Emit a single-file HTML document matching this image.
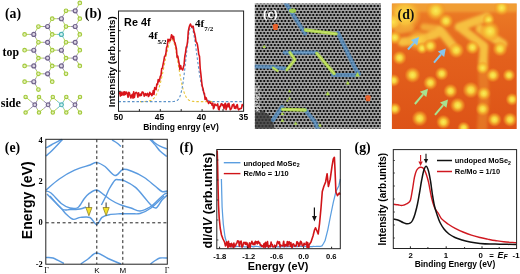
<!DOCTYPE html><html><head><meta charset="utf-8"><title>Figure</title><style>
html,body{margin:0;padding:0;background:#fff;}
svg{display:block;}
.pl{font-family:'Liberation Serif','Times New Roman',serif;font-weight:bold;}
.sb{font-family:'Liberation Sans',Arial,sans-serif;font-weight:bold;}
</style></head><body>
<svg xmlns="http://www.w3.org/2000/svg" width="520" height="274" viewBox="0 0 520 274">
<defs>
<radialGradient id="hole"><stop offset="0" stop-color="#0a0a0a"/><stop offset="0.55" stop-color="#151515"/><stop offset="1" stop-color="#151515" stop-opacity="0"/></radialGradient>
<pattern id="lat" width="3.5" height="6.0" patternUnits="userSpaceOnUse"><rect width="3.5" height="6.0" fill="#898989"/><g fill="#d8d8d8"><circle cx="1.750" cy="1.000" r="0.65"/><circle cx="0.000" cy="2.000" r="0.65"/><circle cx="3.500" cy="2.000" r="0.65"/><circle cx="0.000" cy="4.000" r="0.65"/><circle cx="3.500" cy="4.000" r="0.65"/><circle cx="1.750" cy="5.000" r="0.65"/></g><circle cx="0.000" cy="0.000" r="1.62" fill="url(#hole)"/><circle cx="3.500" cy="0.000" r="1.62" fill="url(#hole)"/><circle cx="1.750" cy="3.000" r="1.62" fill="url(#hole)"/><circle cx="0.000" cy="6.000" r="1.62" fill="url(#hole)"/><circle cx="3.500" cy="6.000" r="1.62" fill="url(#hole)"/></pattern>
<radialGradient id="blob"><stop offset="0" stop-color="#faec58"/><stop offset="0.35" stop-color="#f6d23e"/><stop offset="0.7" stop-color="#f5a82a" stop-opacity="0.6"/><stop offset="1" stop-color="#f08a20" stop-opacity="0"/></radialGradient>
<radialGradient id="blob2"><stop offset="0" stop-color="#f7c52a"/><stop offset="0.5" stop-color="#f3a828"/><stop offset="1" stop-color="#ee8a22" stop-opacity="0"/></radialGradient>
<filter id="bl1" x="-20%" y="-20%" width="140%" height="140%"><feGaussianBlur stdDeviation="2.2"/></filter>
<filter id="bl2" x="-30%" y="-30%" width="160%" height="160%"><feGaussianBlur stdDeviation="1.6"/></filter>
<linearGradient id="topg" x1="0" y1="0" x2="0" y2="1"><stop offset="0" stop-color="#f08a2a"/><stop offset="1" stop-color="#f08a2a" stop-opacity="0"/></linearGradient>
<linearGradient id="dbg" x1="0" y1="0" x2="0" y2="1"><stop offset="0" stop-color="#ec7e26"/><stop offset="0.45" stop-color="#e3601c"/><stop offset="1" stop-color="#dd5317"/></linearGradient>
<radialGradient id="glow"><stop offset="0" stop-color="#fde44c"/><stop offset="0.55" stop-color="#f8c43c" stop-opacity="0.9"/><stop offset="1" stop-color="#f0a030" stop-opacity="0"/></radialGradient>
<filter id="bl05"><feGaussianBlur stdDeviation="0.5"/></filter>
<clipPath id="clipd"><rect x="391.8" y="3.6" width="124.9" height="125.3"/></clipPath>
<clipPath id="clipc"><rect x="254.8" y="3.4" width="126.1" height="125.4"/></clipPath>
</defs>
<text class="pl" x="5" y="18.2" font-size="13.8">(a)</text>
<text class="pl" x="2.6" y="56.2" font-size="11.8">top</text>
<text class="pl" x="0.7" y="106.5" font-size="12.1">side</text>
<line x1="61.4" y1="34.4" x2="56.8" y2="34.4" stroke="#6fc0c0" stroke-width="1.0"/>
<line x1="56.8" y1="34.4" x2="52.2" y2="34.4" stroke="#b2d456" stroke-width="1.0"/>
<line x1="61.4" y1="34.4" x2="63.7" y2="30.5" stroke="#6fc0c0" stroke-width="1.0"/>
<line x1="63.7" y1="30.5" x2="66" y2="26.5" stroke="#b2d456" stroke-width="1.0"/>
<line x1="61.4" y1="34.4" x2="63.7" y2="38.4" stroke="#6fc0c0" stroke-width="1.0"/>
<line x1="63.7" y1="38.4" x2="66" y2="42.3" stroke="#b2d456" stroke-width="1.0"/>
<line x1="33.8" y1="34.4" x2="29.2" y2="34.4" stroke="#968aae" stroke-width="1.0"/>
<line x1="29.2" y1="34.4" x2="24.6" y2="34.4" stroke="#b2d456" stroke-width="1.0"/>
<line x1="33.8" y1="34.4" x2="36.1" y2="30.5" stroke="#968aae" stroke-width="1.0"/>
<line x1="36.1" y1="30.5" x2="38.4" y2="26.5" stroke="#b2d456" stroke-width="1.0"/>
<line x1="33.8" y1="34.4" x2="36.1" y2="38.4" stroke="#968aae" stroke-width="1.0"/>
<line x1="36.1" y1="38.4" x2="38.4" y2="42.3" stroke="#b2d456" stroke-width="1.0"/>
<line x1="33.8" y1="81.7" x2="29.2" y2="81.7" stroke="#968aae" stroke-width="1.0"/>
<line x1="29.2" y1="81.7" x2="24.6" y2="81.7" stroke="#b2d456" stroke-width="1.0"/>
<line x1="33.8" y1="81.7" x2="36.1" y2="77.8" stroke="#968aae" stroke-width="1.0"/>
<line x1="36.1" y1="77.8" x2="38.4" y2="73.8" stroke="#b2d456" stroke-width="1.0"/>
<line x1="33.8" y1="81.7" x2="36.1" y2="85.6" stroke="#968aae" stroke-width="1.0"/>
<line x1="36.1" y1="85.6" x2="38.4" y2="89.6" stroke="#b2d456" stroke-width="1.0"/>
<line x1="47.6" y1="42.3" x2="43" y2="42.3" stroke="#968aae" stroke-width="1.0"/>
<line x1="43" y1="42.3" x2="38.4" y2="42.3" stroke="#b2d456" stroke-width="1.0"/>
<line x1="47.6" y1="42.3" x2="49.9" y2="38.4" stroke="#968aae" stroke-width="1.0"/>
<line x1="49.9" y1="38.4" x2="52.2" y2="34.4" stroke="#b2d456" stroke-width="1.0"/>
<line x1="47.6" y1="42.3" x2="49.9" y2="46.2" stroke="#968aae" stroke-width="1.0"/>
<line x1="49.9" y1="46.2" x2="52.2" y2="50.2" stroke="#b2d456" stroke-width="1.0"/>
<line x1="75.2" y1="10.8" x2="70.6" y2="10.8" stroke="#968aae" stroke-width="1.0"/>
<line x1="70.6" y1="10.8" x2="66" y2="10.8" stroke="#b2d456" stroke-width="1.0"/>
<line x1="75.2" y1="10.8" x2="77.5" y2="6.8" stroke="#968aae" stroke-width="1.0"/>
<line x1="77.5" y1="6.8" x2="79.8" y2="2.9" stroke="#b2d456" stroke-width="1.0"/>
<line x1="75.2" y1="10.8" x2="77.5" y2="14.7" stroke="#968aae" stroke-width="1.0"/>
<line x1="77.5" y1="14.7" x2="79.8" y2="18.7" stroke="#b2d456" stroke-width="1.0"/>
<line x1="75.2" y1="58.1" x2="70.6" y2="58.1" stroke="#968aae" stroke-width="1.0"/>
<line x1="70.6" y1="58.1" x2="66" y2="58.1" stroke="#b2d456" stroke-width="1.0"/>
<line x1="75.2" y1="58.1" x2="77.5" y2="54.1" stroke="#968aae" stroke-width="1.0"/>
<line x1="77.5" y1="54.1" x2="79.8" y2="50.2" stroke="#b2d456" stroke-width="1.0"/>
<line x1="75.2" y1="58.1" x2="77.5" y2="62" stroke="#968aae" stroke-width="1.0"/>
<line x1="77.5" y1="62" x2="79.8" y2="65.9" stroke="#b2d456" stroke-width="1.0"/>
<line x1="33.8" y1="50.2" x2="29.2" y2="50.2" stroke="#968aae" stroke-width="1.0"/>
<line x1="29.2" y1="50.2" x2="24.6" y2="50.2" stroke="#b2d456" stroke-width="1.0"/>
<line x1="33.8" y1="50.2" x2="36.1" y2="46.2" stroke="#968aae" stroke-width="1.0"/>
<line x1="36.1" y1="46.2" x2="38.4" y2="42.3" stroke="#b2d456" stroke-width="1.0"/>
<line x1="33.8" y1="50.2" x2="36.1" y2="54.1" stroke="#968aae" stroke-width="1.0"/>
<line x1="36.1" y1="54.1" x2="38.4" y2="58.1" stroke="#b2d456" stroke-width="1.0"/>
<line x1="47.6" y1="58.1" x2="43" y2="58.1" stroke="#968aae" stroke-width="1.0"/>
<line x1="43" y1="58.1" x2="38.4" y2="58.1" stroke="#b2d456" stroke-width="1.0"/>
<line x1="47.6" y1="58.1" x2="49.9" y2="54.1" stroke="#968aae" stroke-width="1.0"/>
<line x1="49.9" y1="54.1" x2="52.2" y2="50.2" stroke="#b2d456" stroke-width="1.0"/>
<line x1="47.6" y1="58.1" x2="49.9" y2="62" stroke="#968aae" stroke-width="1.0"/>
<line x1="49.9" y1="62" x2="52.2" y2="65.9" stroke="#b2d456" stroke-width="1.0"/>
<line x1="75.2" y1="26.5" x2="70.6" y2="26.5" stroke="#968aae" stroke-width="1.0"/>
<line x1="70.6" y1="26.5" x2="66" y2="26.5" stroke="#b2d456" stroke-width="1.0"/>
<line x1="75.2" y1="26.5" x2="77.5" y2="22.6" stroke="#968aae" stroke-width="1.0"/>
<line x1="77.5" y1="22.6" x2="79.8" y2="18.7" stroke="#b2d456" stroke-width="1.0"/>
<line x1="75.2" y1="26.5" x2="77.5" y2="30.5" stroke="#968aae" stroke-width="1.0"/>
<line x1="77.5" y1="30.5" x2="79.8" y2="34.4" stroke="#b2d456" stroke-width="1.0"/>
<line x1="61.4" y1="50.2" x2="56.8" y2="50.2" stroke="#968aae" stroke-width="1.0"/>
<line x1="56.8" y1="50.2" x2="52.2" y2="50.2" stroke="#b2d456" stroke-width="1.0"/>
<line x1="61.4" y1="50.2" x2="63.7" y2="46.2" stroke="#968aae" stroke-width="1.0"/>
<line x1="63.7" y1="46.2" x2="66" y2="42.3" stroke="#b2d456" stroke-width="1.0"/>
<line x1="61.4" y1="50.2" x2="63.7" y2="54.1" stroke="#968aae" stroke-width="1.0"/>
<line x1="63.7" y1="54.1" x2="66" y2="58.1" stroke="#b2d456" stroke-width="1.0"/>
<line x1="61.4" y1="18.7" x2="56.8" y2="18.7" stroke="#968aae" stroke-width="1.0"/>
<line x1="56.8" y1="18.7" x2="52.2" y2="18.7" stroke="#b2d456" stroke-width="1.0"/>
<line x1="61.4" y1="18.7" x2="63.7" y2="14.7" stroke="#968aae" stroke-width="1.0"/>
<line x1="63.7" y1="14.7" x2="66" y2="10.8" stroke="#b2d456" stroke-width="1.0"/>
<line x1="61.4" y1="18.7" x2="63.7" y2="22.6" stroke="#968aae" stroke-width="1.0"/>
<line x1="63.7" y1="22.6" x2="66" y2="26.5" stroke="#b2d456" stroke-width="1.0"/>
<line x1="33.8" y1="65.9" x2="29.2" y2="65.9" stroke="#968aae" stroke-width="1.0"/>
<line x1="29.2" y1="65.9" x2="24.6" y2="65.9" stroke="#b2d456" stroke-width="1.0"/>
<line x1="33.8" y1="65.9" x2="36.1" y2="62" stroke="#968aae" stroke-width="1.0"/>
<line x1="36.1" y1="62" x2="38.4" y2="58.1" stroke="#b2d456" stroke-width="1.0"/>
<line x1="33.8" y1="65.9" x2="36.1" y2="69.9" stroke="#968aae" stroke-width="1.0"/>
<line x1="36.1" y1="69.9" x2="38.4" y2="73.8" stroke="#b2d456" stroke-width="1.0"/>
<line x1="47.6" y1="26.5" x2="43" y2="26.5" stroke="#968aae" stroke-width="1.0"/>
<line x1="43" y1="26.5" x2="38.4" y2="26.5" stroke="#b2d456" stroke-width="1.0"/>
<line x1="47.6" y1="26.5" x2="49.9" y2="22.6" stroke="#968aae" stroke-width="1.0"/>
<line x1="49.9" y1="22.6" x2="52.2" y2="18.7" stroke="#b2d456" stroke-width="1.0"/>
<line x1="47.6" y1="26.5" x2="49.9" y2="30.5" stroke="#968aae" stroke-width="1.0"/>
<line x1="49.9" y1="30.5" x2="52.2" y2="34.4" stroke="#b2d456" stroke-width="1.0"/>
<line x1="47.6" y1="73.8" x2="43" y2="73.8" stroke="#968aae" stroke-width="1.0"/>
<line x1="43" y1="73.8" x2="38.4" y2="73.8" stroke="#b2d456" stroke-width="1.0"/>
<line x1="47.6" y1="73.8" x2="49.9" y2="69.9" stroke="#968aae" stroke-width="1.0"/>
<line x1="49.9" y1="69.9" x2="52.2" y2="65.9" stroke="#b2d456" stroke-width="1.0"/>
<line x1="47.6" y1="73.8" x2="49.9" y2="77.8" stroke="#968aae" stroke-width="1.0"/>
<line x1="49.9" y1="77.8" x2="52.2" y2="81.7" stroke="#b2d456" stroke-width="1.0"/>
<line x1="75.2" y1="42.3" x2="70.6" y2="42.3" stroke="#968aae" stroke-width="1.0"/>
<line x1="70.6" y1="42.3" x2="66" y2="42.3" stroke="#b2d456" stroke-width="1.0"/>
<line x1="75.2" y1="42.3" x2="77.5" y2="38.4" stroke="#968aae" stroke-width="1.0"/>
<line x1="77.5" y1="38.4" x2="79.8" y2="34.4" stroke="#b2d456" stroke-width="1.0"/>
<line x1="75.2" y1="42.3" x2="77.5" y2="46.2" stroke="#968aae" stroke-width="1.0"/>
<line x1="77.5" y1="46.2" x2="79.8" y2="50.2" stroke="#b2d456" stroke-width="1.0"/>
<line x1="61.4" y1="65.9" x2="56.8" y2="65.9" stroke="#968aae" stroke-width="1.0"/>
<line x1="56.8" y1="65.9" x2="52.2" y2="65.9" stroke="#b2d456" stroke-width="1.0"/>
<line x1="61.4" y1="65.9" x2="63.7" y2="62" stroke="#968aae" stroke-width="1.0"/>
<line x1="63.7" y1="62" x2="66" y2="58.1" stroke="#b2d456" stroke-width="1.0"/>
<line x1="61.4" y1="65.9" x2="63.7" y2="69.9" stroke="#968aae" stroke-width="1.0"/>
<line x1="63.7" y1="69.9" x2="66" y2="73.8" stroke="#b2d456" stroke-width="1.0"/>
<line x1="34.8" y1="104.8" x2="30.2" y2="100.8" stroke="#968aae" stroke-width="1.0"/>
<line x1="30.2" y1="100.8" x2="25.6" y2="96.9" stroke="#b2d456" stroke-width="1.0"/>
<line x1="34.8" y1="104.8" x2="30.2" y2="108.7" stroke="#968aae" stroke-width="1.0"/>
<line x1="30.2" y1="108.7" x2="25.6" y2="112.5" stroke="#b2d456" stroke-width="1.0"/>
<line x1="34.8" y1="104.8" x2="37" y2="100.8" stroke="#968aae" stroke-width="1.0"/>
<line x1="37" y1="100.8" x2="39.3" y2="96.9" stroke="#b2d456" stroke-width="1.0"/>
<line x1="34.8" y1="104.8" x2="37" y2="108.7" stroke="#968aae" stroke-width="1.0"/>
<line x1="37" y1="108.7" x2="39.3" y2="112.5" stroke="#b2d456" stroke-width="1.0"/>
<line x1="48.1" y1="104.8" x2="43.5" y2="100.8" stroke="#968aae" stroke-width="1.0"/>
<line x1="43.5" y1="100.8" x2="38.9" y2="96.9" stroke="#b2d456" stroke-width="1.0"/>
<line x1="48.1" y1="104.8" x2="43.5" y2="108.7" stroke="#968aae" stroke-width="1.0"/>
<line x1="43.5" y1="108.7" x2="38.9" y2="112.5" stroke="#b2d456" stroke-width="1.0"/>
<line x1="48.1" y1="104.8" x2="50.4" y2="100.8" stroke="#968aae" stroke-width="1.0"/>
<line x1="50.4" y1="100.8" x2="52.6" y2="96.9" stroke="#b2d456" stroke-width="1.0"/>
<line x1="48.1" y1="104.8" x2="50.4" y2="108.7" stroke="#968aae" stroke-width="1.0"/>
<line x1="50.4" y1="108.7" x2="52.6" y2="112.5" stroke="#b2d456" stroke-width="1.0"/>
<line x1="61.5" y1="104.8" x2="56.9" y2="100.8" stroke="#6fc0c0" stroke-width="1.0"/>
<line x1="56.9" y1="100.8" x2="52.3" y2="96.9" stroke="#b2d456" stroke-width="1.0"/>
<line x1="61.5" y1="104.8" x2="56.9" y2="108.7" stroke="#6fc0c0" stroke-width="1.0"/>
<line x1="56.9" y1="108.7" x2="52.3" y2="112.5" stroke="#b2d456" stroke-width="1.0"/>
<line x1="61.5" y1="104.8" x2="63.8" y2="100.8" stroke="#6fc0c0" stroke-width="1.0"/>
<line x1="63.8" y1="100.8" x2="66" y2="96.9" stroke="#b2d456" stroke-width="1.0"/>
<line x1="61.5" y1="104.8" x2="63.8" y2="108.7" stroke="#6fc0c0" stroke-width="1.0"/>
<line x1="63.8" y1="108.7" x2="66" y2="112.5" stroke="#b2d456" stroke-width="1.0"/>
<line x1="75" y1="104.8" x2="70.4" y2="100.8" stroke="#968aae" stroke-width="1.0"/>
<line x1="70.4" y1="100.8" x2="65.8" y2="96.9" stroke="#b2d456" stroke-width="1.0"/>
<line x1="75" y1="104.8" x2="70.4" y2="108.7" stroke="#968aae" stroke-width="1.0"/>
<line x1="70.4" y1="108.7" x2="65.8" y2="112.5" stroke="#b2d456" stroke-width="1.0"/>
<line x1="75" y1="104.8" x2="77.2" y2="100.8" stroke="#968aae" stroke-width="1.0"/>
<line x1="77.2" y1="100.8" x2="79.5" y2="96.9" stroke="#b2d456" stroke-width="1.0"/>
<line x1="75" y1="104.8" x2="77.2" y2="108.7" stroke="#968aae" stroke-width="1.0"/>
<line x1="77.2" y1="108.7" x2="79.5" y2="112.5" stroke="#b2d456" stroke-width="1.0"/>
<circle cx="79.8" cy="2.9" r="1.8" fill="#e6f1b8" stroke="#a2c93c" stroke-width="1.15"/>
<circle cx="66" cy="10.8" r="1.8" fill="#e6f1b8" stroke="#a2c93c" stroke-width="1.15"/>
<circle cx="66" cy="58.1" r="1.8" fill="#e6f1b8" stroke="#a2c93c" stroke-width="1.15"/>
<circle cx="79.8" cy="50.2" r="1.8" fill="#e6f1b8" stroke="#a2c93c" stroke-width="1.15"/>
<circle cx="52.2" cy="18.7" r="1.8" fill="#e6f1b8" stroke="#a2c93c" stroke-width="1.15"/>
<circle cx="24.6" cy="65.9" r="1.8" fill="#e6f1b8" stroke="#a2c93c" stroke-width="1.15"/>
<circle cx="38.4" cy="26.5" r="1.8" fill="#e6f1b8" stroke="#a2c93c" stroke-width="1.15"/>
<circle cx="38.4" cy="73.8" r="1.8" fill="#e6f1b8" stroke="#a2c93c" stroke-width="1.15"/>
<circle cx="52.2" cy="65.9" r="1.8" fill="#e6f1b8" stroke="#a2c93c" stroke-width="1.15"/>
<circle cx="79.8" cy="18.7" r="1.8" fill="#e6f1b8" stroke="#a2c93c" stroke-width="1.15"/>
<circle cx="66" cy="26.5" r="1.8" fill="#e6f1b8" stroke="#a2c93c" stroke-width="1.15"/>
<circle cx="66" cy="73.8" r="1.8" fill="#e6f1b8" stroke="#a2c93c" stroke-width="1.15"/>
<circle cx="79.8" cy="65.9" r="1.8" fill="#e6f1b8" stroke="#a2c93c" stroke-width="1.15"/>
<circle cx="52.2" cy="34.4" r="1.8" fill="#e6f1b8" stroke="#a2c93c" stroke-width="1.15"/>
<circle cx="24.6" cy="34.4" r="1.8" fill="#e6f1b8" stroke="#a2c93c" stroke-width="1.15"/>
<circle cx="24.6" cy="81.7" r="1.8" fill="#e6f1b8" stroke="#a2c93c" stroke-width="1.15"/>
<circle cx="38.4" cy="42.3" r="1.8" fill="#e6f1b8" stroke="#a2c93c" stroke-width="1.15"/>
<circle cx="38.4" cy="89.6" r="1.8" fill="#e6f1b8" stroke="#a2c93c" stroke-width="1.15"/>
<circle cx="52.2" cy="81.7" r="1.8" fill="#e6f1b8" stroke="#a2c93c" stroke-width="1.15"/>
<circle cx="66" cy="42.3" r="1.8" fill="#e6f1b8" stroke="#a2c93c" stroke-width="1.15"/>
<circle cx="79.8" cy="34.4" r="1.8" fill="#e6f1b8" stroke="#a2c93c" stroke-width="1.15"/>
<circle cx="24.6" cy="50.2" r="1.8" fill="#e6f1b8" stroke="#a2c93c" stroke-width="1.15"/>
<circle cx="38.4" cy="58.1" r="1.8" fill="#e6f1b8" stroke="#a2c93c" stroke-width="1.15"/>
<circle cx="52.2" cy="50.2" r="1.8" fill="#e6f1b8" stroke="#a2c93c" stroke-width="1.15"/>
<circle cx="61.4" cy="34.4" r="2" fill="#d2f2f0" stroke="#4fb3b5" stroke-width="1.15"/>
<circle cx="33.8" cy="34.4" r="2" fill="#ddd6e6" stroke="#6f6289" stroke-width="1.15"/>
<circle cx="33.8" cy="81.7" r="2" fill="#ddd6e6" stroke="#6f6289" stroke-width="1.15"/>
<circle cx="47.6" cy="42.3" r="2" fill="#ddd6e6" stroke="#6f6289" stroke-width="1.15"/>
<circle cx="75.2" cy="10.8" r="2" fill="#ddd6e6" stroke="#6f6289" stroke-width="1.15"/>
<circle cx="75.2" cy="58.1" r="2" fill="#ddd6e6" stroke="#6f6289" stroke-width="1.15"/>
<circle cx="33.8" cy="50.2" r="2" fill="#ddd6e6" stroke="#6f6289" stroke-width="1.15"/>
<circle cx="47.6" cy="58.1" r="2" fill="#ddd6e6" stroke="#6f6289" stroke-width="1.15"/>
<circle cx="75.2" cy="26.5" r="2" fill="#ddd6e6" stroke="#6f6289" stroke-width="1.15"/>
<circle cx="61.4" cy="50.2" r="2" fill="#ddd6e6" stroke="#6f6289" stroke-width="1.15"/>
<circle cx="61.4" cy="18.7" r="2" fill="#ddd6e6" stroke="#6f6289" stroke-width="1.15"/>
<circle cx="33.8" cy="65.9" r="2" fill="#ddd6e6" stroke="#6f6289" stroke-width="1.15"/>
<circle cx="47.6" cy="26.5" r="2" fill="#ddd6e6" stroke="#6f6289" stroke-width="1.15"/>
<circle cx="47.6" cy="73.8" r="2" fill="#ddd6e6" stroke="#6f6289" stroke-width="1.15"/>
<circle cx="75.2" cy="42.3" r="2" fill="#ddd6e6" stroke="#6f6289" stroke-width="1.15"/>
<circle cx="61.4" cy="65.9" r="2" fill="#ddd6e6" stroke="#6f6289" stroke-width="1.15"/>
<circle cx="25.6" cy="96.9" r="1.7" fill="#e6f1b8" stroke="#a2c93c" stroke-width="1.15"/>
<circle cx="25.6" cy="112.5" r="1.7" fill="#e6f1b8" stroke="#a2c93c" stroke-width="1.15"/>
<circle cx="39" cy="96.9" r="1.7" fill="#e6f1b8" stroke="#a2c93c" stroke-width="1.15"/>
<circle cx="39" cy="112.5" r="1.7" fill="#e6f1b8" stroke="#a2c93c" stroke-width="1.15"/>
<circle cx="52.8" cy="96.9" r="1.7" fill="#e6f1b8" stroke="#a2c93c" stroke-width="1.15"/>
<circle cx="52.8" cy="112.5" r="1.7" fill="#e6f1b8" stroke="#a2c93c" stroke-width="1.15"/>
<circle cx="66.3" cy="96.9" r="1.7" fill="#e6f1b8" stroke="#a2c93c" stroke-width="1.15"/>
<circle cx="66.3" cy="112.5" r="1.7" fill="#e6f1b8" stroke="#a2c93c" stroke-width="1.15"/>
<circle cx="80" cy="96.9" r="1.7" fill="#e6f1b8" stroke="#a2c93c" stroke-width="1.15"/>
<circle cx="80" cy="112.5" r="1.7" fill="#e6f1b8" stroke="#a2c93c" stroke-width="1.15"/>
<circle cx="34.8" cy="104.8" r="1.9" fill="#ddd6e6" stroke="#6f6289" stroke-width="1.15"/>
<circle cx="48.1" cy="104.8" r="1.9" fill="#ddd6e6" stroke="#6f6289" stroke-width="1.15"/>
<circle cx="61.5" cy="104.8" r="1.9" fill="#d2f2f0" stroke="#4fb3b5" stroke-width="1.15"/>
<circle cx="75" cy="104.8" r="1.9" fill="#ddd6e6" stroke="#6f6289" stroke-width="1.15"/>
<text class="pl" x="84.8" y="18.2" font-size="13.8">(b)</text>
<path d="M140,101.6 L140.5,101.6 L141,101.6 L141.5,101.6 L142,101.6 L142.5,101.6 L143,101.6 L143.5,101.6 L144,101.5 L144.5,101.5 L145,101.5 L145.5,101.5 L146,101.4 L146.5,101.4 L147,101.4 L147.5,101.3 L148,101.2 L148.5,101.1 L149,101 L149.5,100.9 L150,100.8 L150.5,100.6 L151,100.4 L151.5,100.1 L152,99.8 L152.5,99.5 L153,99.1 L153.5,98.6 L154,98.1 L154.5,97.5 L155,96.8 L155.5,96.1 L156,95.2 L156.5,94.3 L157,93.2 L157.5,92 L158,90.7 L158.5,89.3 L159,87.8 L159.5,86.1 L160,84.4 L160.5,82.5 L161,80.5 L161.5,78.3 L162,76.1 L162.5,73.8 L163,71.4 L163.5,69 L164,66.5 L164.5,64 L165,61.5 L165.5,59 L166,56.6 L166.5,54.2 L167,52 L167.5,49.8 L168,47.8 L168.5,46 L169,44.4 L169.5,43 L170,41.8 L170.5,40.8 L171,40.1 L171.5,39.7 L172,39.6 L172.5,39.8 L173,40.4 L173.5,41.4 L174,42.7 L174.5,44.4 L175,46.4 L175.5,48.7 L176,51.2 L176.5,54 L177,56.8 L177.5,59.8 L178,62.8 L178.5,65.8 L179,68.8 L179.5,71.8 L180,74.6 L180.5,77.4 L181,80 L181.5,82.4 L182,84.7 L182.5,86.8 L183,88.8 L183.5,90.5 L184,92.1 L184.5,93.5 L185,94.7 L185.5,95.8 L186,96.8 L186.5,97.6 L187,98.3 L187.5,98.9 L188,99.4 L188.5,99.8 L189,100.2 L189.5,100.4 L190,100.7 L190.5,100.9 L191,101 L191.5,101.2 L192,101.3 L192.5,101.3 L193,101.4 L193.5,101.4 L194,101.5 L194.5,101.5 L195,101.5 L195.5,101.6 L196,101.6 L196.5,101.6 L197,101.6 L197.5,101.6 L198,101.6 L198.5,101.6 L199,101.6 L199.5,101.6 L200,101.6 L200.5,101.6 L201,101.6 L201.5,101.6 L202,101.6 L202.5,101.6 L203,101.6 L203.5,101.6 L204,101.6 L204.5,101.6 L205,101.6 L205.5,101.6 L206,101.6 L206.5,101.6 L207,101.6 L207.5,101.6 L208,101.6 L208.5,101.6 L209,101.6 L209.5,101.6 L210,101.6 L210.5,101.6 L211,101.6 L211.5,101.6 L212,101.6 L212.5,101.6 L213,101.6 L213.5,101.6 L214,101.6" fill="none" stroke="#e7c53a" stroke-width="1.1" stroke-dasharray="2.5,2"/>
<path d="M118.5,101.6 L119,101.6 L119.5,101.6 L120,101.6 L120.5,101.6 L121,101.6 L121.5,101.6 L122,101.6 L122.5,101.6 L123,101.6 L123.5,101.6 L124,101.6 L124.5,101.6 L125,101.6 L125.5,101.6 L126,101.6 L126.5,101.6 L127,101.6 L127.5,101.6 L128,101.6 L128.5,101.6 L129,101.6 L129.5,101.6 L130,101.6 L130.5,101.6 L131,101.6 L131.5,101.6 L132,101.6 L132.5,101.6 L133,101.6 L133.5,101.6 L134,101.6 L134.5,101.6 L135,101.6 L135.5,101.6 L136,101.6 L136.5,101.6 L137,101.6 L137.5,101.6 L138,101.6 L138.5,101.6 L139,101.6 L139.5,101.6 L140,101.6 L140.5,101.6 L141,101.6 L141.5,101.6 L142,101.6 L142.5,101.6 L143,101.6 L143.5,101.6 L144,101.6 L144.5,101.6 L145,101.6 L145.5,101.6 L146,101.6 L146.5,101.6 L147,101.6 L147.5,101.6 L148,101.6 L148.5,101.6 L149,101.6 L149.5,101.6 L150,101.6 L150.5,101.6 L151,101.6 L151.5,101.6 L152,101.6 L152.5,101.6 L153,101.6 L153.5,101.6 L154,101.6 L154.5,101.6 L155,101.6 L155.5,101.6 L156,101.6 L156.5,101.6 L157,101.6 L157.5,101.6 L158,101.6 L158.5,101.6 L159,101.6 L159.5,101.6 L160,101.6 L160.5,101.6 L161,101.6 L161.5,101.6 L162,101.6 L162.5,101.6 L163,101.6 L163.5,101.6 L164,101.6 L164.5,101.6 L165,101.6 L165.5,101.6 L166,101.6 L166.5,101.6 L167,101.6 L167.5,101.6 L168,101.6 L168.5,101.6 L169,101.6 L169.5,101.6 L170,101.6 L170.5,101.6 L171,101.6 L171.5,101.6 L172,101.6 L172.5,101.6 L173,101.5 L173.5,101.5 L174,101.5 L174.5,101.4 L175,101.3 L175.5,101.2 L176,101 L176.5,100.8 L177,100.5 L177.5,100.2 L178,99.7 L178.5,99.1 L179,98.3 L179.5,97.3 L180,96.2 L180.5,94.7 L181,93 L181.5,91 L182,88.7 L182.5,86 L183,82.9 L183.5,79.5 L184,75.7 L184.5,71.6 L185,67.3 L185.5,62.7 L186,58 L186.5,53.3 L187,48.6 L187.5,44.1 L188,39.9 L188.5,36.1 L189,32.8 L189.5,30.2 L190,28.2 L190.5,27 L191,26.6 L191.5,26.9 L192,27.6 L192.5,28.9 L193,30.7 L193.5,32.8 L194,35.4 L194.5,38.3 L195,41.5 L195.5,45 L196,48.6 L196.5,52.3 L197,56.1 L197.5,59.9 L198,63.6 L198.5,67.3 L199,70.8 L199.5,74.1 L200,77.3 L200.5,80.2 L201,82.9 L201.5,85.4 L202,87.6 L202.5,89.7 L203,91.4 L203.5,93 L204,94.4 L204.5,95.6 L205,96.7 L205.5,97.6 L206,98.3 L206.5,98.9 L207,99.5 L207.5,99.9 L208,100.2 L208.5,100.5 L209,100.8 L209.5,101 L210,101.1 L210.5,101.2 L211,101.3 L211.5,101.4 L212,101.4 L212.5,101.5 L213,101.5 L213.5,101.5 L214,101.6 L214.5,101.6 L215,101.6 L215.5,101.6 L216,101.6 L216.5,101.6 L217,101.6 L217.5,101.6 L218,101.6 L218.5,101.6 L219,101.6 L219.5,101.6 L220,101.6 L220.5,101.6 L221,101.6 L221.5,101.6 L222,101.6 L222.5,101.6 L223,101.6 L223.5,101.6 L224,101.6 L224.5,101.6 L225,101.6 L225.5,101.6 L226,101.6 L226.5,101.6 L227,101.6 L227.5,101.6 L228,101.6 L228.5,101.6 L229,101.6 L229.5,101.6 L230,101.6 L230.5,101.6 L231,101.6 L231.5,101.6 L232,101.6 L232.5,101.6 L233,101.6 L233.5,101.6 L234,101.6 L234.5,101.6 L235,101.6 L235.5,101.6 L236,101.6 L236.5,101.6 L237,101.6 L237.5,101.6 L238,101.6 L238.5,101.6 L239,101.6 L239.5,101.6 L240,101.6 L240.5,101.6 L241,101.6 L241.5,101.6 L242,101.6 L242.5,101.6 L243,101.6 L243.5,101.6" fill="none" stroke="#5d93c9" stroke-width="1.1" stroke-dasharray="2.5,2"/>
<polyline points="119,93.8 119.7,92.6 120.4,96 121.1,92.1 121.8,95.2 122.5,94.1 123.2,92 123.9,95.1 124.6,91.9 125.3,94.5 126,92.1 126.7,92.2 127.4,94.5 128.1,97.2 128.8,92.4 129.5,93.1 130.2,95.9 130.9,98 131.6,95.5 132.3,94.3 133,98.2 133.7,91.9 134.4,97.4 135.1,93.6 135.8,92.6 136.5,92.4 137.2,93.7 137.9,97.1 138.6,92.8 139.3,95.5 140,95.9 140.7,94.1 141.4,95.3 142.1,92 142.8,92 143.5,92.9 144.2,96.1 144.9,94.4 145.6,93.6 146.3,95.4 147,94.4 147.7,93.3 148.4,96.5 149.1,95.7 149.8,92.4 150.5,94.3 151.2,93.7 151.9,95.6 152.6,94.1 153.3,90.5 154,94.4 154.7,87.6 155.4,88.6 156.1,89.6 156.8,84 157.5,84.6 158.2,79.6 158.9,81.8 159.6,80.1 160.3,76.2 161,75.4 161.7,68.6 162.4,68.1 163.1,64.2 163.8,60.8 164.5,56.6 165.2,55.9 165.9,53.5 166.6,47.3 167.3,45.8 168,39.2 168.7,41.5 169.4,39.4 170.1,40.6 170.8,38.7 171.5,34.8 172.2,35.9 172.9,38.9 173.6,36.4 174.3,41.8 175,42.7 175.7,45.6 176.4,48.7 177.1,57.1 177.8,56.2 178.5,60.2 179.2,64 179.9,69.4 180.6,65.5 181.3,68.6 182,69 182.7,70 183.4,67.3 184.1,64.4 184.8,56.5 185.5,52.8 186.2,47.4 186.9,45.8 187.6,41.3 188.3,31.3 189,27.8 189.7,25.5 190.4,24 191.1,25.6 191.8,27.1 192.5,26.3 193.2,26.4 193.9,31.4 194.6,33.3 195.3,36.8 196,41.8 196.7,42.6 197.4,44.5 198.1,49.2 198.8,54.5 199.5,56.2 200.2,68.5 200.9,74.3 201.6,81.3 202.3,86.5 203,88.5 203.7,92.4 204.4,93.5 205.1,99.5 205.8,97.4 206.5,98.9 207.2,100.9 207.9,101.5 208.6,103.4 209.3,101.9 210,102 210.7,103.3 211.4,103.2 212.1,105.2 212.8,103 213.5,108.8 214.2,107.1 214.9,104 215.6,104.7 216.3,105.4 217,105.5 217.7,103.9 218.4,108.9 219.1,109.8 219.8,106.3 220.5,106.4 221.2,103.7 221.9,103.8 222.6,105.4 223.3,104.9 224,108.7 224.7,104.2 225.4,103.3 226.1,109.6 226.8,106.7 227.5,104.1 228.2,106.8 228.9,103.3 229.6,106.7 230.3,109.8 231,109 231.7,107.8 232.4,104.9 233.1,105.6 233.8,104.2 234.5,108.3 235.2,106.7 235.9,108.4 236.6,105.3 237.3,104.6 238,108.6 238.7,109.8 239.4,108.9 240.1,108.6 240.8,108.7 241.5,108.1 242.2,104.6 242.9,106.6" fill="none" stroke="#d8141a" stroke-width="1.6" stroke-linejoin="round"/>
<rect x="118.5" y="11.0" width="125.1" height="100.3" fill="none" stroke="#222" stroke-width="1"/>
<line x1="118.5" y1="111.3" x2="118.5" y2="109.1" stroke="#222" stroke-width="1"/>
<line x1="139.4" y1="111.3" x2="139.4" y2="109.1" stroke="#222" stroke-width="1"/>
<line x1="160.3" y1="111.3" x2="160.3" y2="109.1" stroke="#222" stroke-width="1"/>
<line x1="181.2" y1="111.3" x2="181.2" y2="109.1" stroke="#222" stroke-width="1"/>
<line x1="202.1" y1="111.3" x2="202.1" y2="109.1" stroke="#222" stroke-width="1"/>
<line x1="223" y1="111.3" x2="223" y2="109.1" stroke="#222" stroke-width="1"/>
<line x1="118.5" y1="91.3" x2="120.7" y2="91.3" stroke="#222" stroke-width="1"/>
<line x1="118.5" y1="71.1" x2="120.7" y2="71.1" stroke="#222" stroke-width="1"/>
<line x1="118.5" y1="50.9" x2="120.7" y2="50.9" stroke="#222" stroke-width="1"/>
<line x1="118.5" y1="30.7" x2="120.7" y2="30.7" stroke="#222" stroke-width="1"/>
<text class="sb" x="118.5" y="120.3" font-size="8.4" text-anchor="middle">50</text>
<text class="sb" x="159.5" y="120.3" font-size="8.4" text-anchor="middle">45</text>
<text class="sb" x="201.5" y="120.3" font-size="8.4" text-anchor="middle">40</text>
<text class="sb" x="243.5" y="120.3" font-size="8.4" text-anchor="middle">35</text>
<text class="sb" x="181" y="129.8" font-size="8.5" text-anchor="middle">Binding enrgy (eV)</text>
<text class="sb" transform="translate(114.6,61.8) rotate(-90)" font-size="9.8" text-anchor="middle">Intensity (arb.units)</text>
<text class="sb" x="124.1" y="25.7" font-size="10.8">Re 4f</text>
<text class="pl" x="148.4" y="39.3" font-size="11">4f<tspan font-size="7" dy="4.7">5/2</tspan></text>
<text class="pl" x="195.1" y="26.9" font-size="11">4f<tspan font-size="7" dy="4.5">7/2</tspan></text>
<g clip-path="url(#clipc)">
<rect x="254" y="2" width="128" height="128" fill="url(#lat)"/>
<path d="M255,110 L262,110.5 L269,115 L273,121 L275,131 L255,131 Z" fill="#3a3a3a" opacity="0.78"/>
<rect x="256.4" y="82.9" width="1" height="1" fill="#e8e8e8" opacity="0.7"/>
<rect x="255.1" y="90.4" width="1" height="1" fill="#e8e8e8" opacity="0.7"/>
<rect x="256" y="102.8" width="1" height="1" fill="#e8e8e8" opacity="0.7"/>
<rect x="258.8" y="95.4" width="1" height="1" fill="#e8e8e8" opacity="0.7"/>
<rect x="258.7" y="111.6" width="1" height="1" fill="#e8e8e8" opacity="0.7"/>
<rect x="258.8" y="92.9" width="1" height="1" fill="#e8e8e8" opacity="0.7"/>
<rect x="255.9" y="88.8" width="1" height="1" fill="#e8e8e8" opacity="0.7"/>
<rect x="255.8" y="88.1" width="1" height="1" fill="#e8e8e8" opacity="0.7"/>
<rect x="257.5" y="109" width="1" height="1" fill="#e8e8e8" opacity="0.7"/>
<rect x="258.4" y="96.4" width="1" height="1" fill="#e8e8e8" opacity="0.7"/>
<rect x="257.6" y="106" width="1" height="1" fill="#e8e8e8" opacity="0.7"/>
<rect x="255.3" y="101.8" width="1" height="1" fill="#e8e8e8" opacity="0.7"/>
<rect x="258.6" y="105.5" width="1" height="1" fill="#e8e8e8" opacity="0.7"/>
<rect x="258" y="96.3" width="1" height="1" fill="#e8e8e8" opacity="0.7"/>
<rect x="255.7" y="105.7" width="1" height="1" fill="#e8e8e8" opacity="0.7"/>
<rect x="256.3" y="106" width="1" height="1" fill="#e8e8e8" opacity="0.7"/>
<rect x="258.9" y="93.9" width="1" height="1" fill="#e8e8e8" opacity="0.7"/>
<rect x="256.6" y="110.4" width="1" height="1" fill="#e8e8e8" opacity="0.7"/>
<rect x="257.9" y="87.1" width="1" height="1" fill="#e8e8e8" opacity="0.7"/>
<rect x="255.5" y="86.5" width="1" height="1" fill="#e8e8e8" opacity="0.7"/>
<rect x="258.6" y="106.2" width="1" height="1" fill="#e8e8e8" opacity="0.7"/>
<rect x="255.6" y="106.8" width="1" height="1" fill="#e8e8e8" opacity="0.7"/>
<rect x="258.9" y="101.7" width="1" height="1" fill="#e8e8e8" opacity="0.7"/>
<rect x="256.4" y="98.5" width="1" height="1" fill="#e8e8e8" opacity="0.7"/>
<rect x="255.5" y="82.4" width="1" height="1" fill="#e8e8e8" opacity="0.7"/>
<rect x="258.9" y="101.5" width="1" height="1" fill="#e8e8e8" opacity="0.7"/>
<rect x="257.1" y="110" width="1" height="1" fill="#e8e8e8" opacity="0.7"/>
<rect x="256.7" y="108.2" width="1" height="1" fill="#e8e8e8" opacity="0.7"/>
<rect x="258.3" y="88.3" width="1" height="1" fill="#e8e8e8" opacity="0.7"/>
<rect x="256" y="90.8" width="1" height="1" fill="#e8e8e8" opacity="0.7"/>
<rect x="256" y="99.6" width="1" height="1" fill="#e8e8e8" opacity="0.7"/>
<rect x="256" y="94.6" width="1" height="1" fill="#e8e8e8" opacity="0.7"/>
<rect x="255.5" y="109.3" width="1" height="1" fill="#e8e8e8" opacity="0.7"/>
<rect x="256.4" y="95.7" width="1" height="1" fill="#e8e8e8" opacity="0.7"/>
<rect x="257.3" y="109.1" width="1" height="1" fill="#e8e8e8" opacity="0.7"/>
<rect x="256.7" y="109.5" width="1" height="1" fill="#e8e8e8" opacity="0.7"/>
<rect x="257" y="98" width="1" height="1" fill="#e8e8e8" opacity="0.7"/>
<rect x="257.1" y="82.6" width="1" height="1" fill="#e8e8e8" opacity="0.7"/>
<rect x="256.8" y="87.5" width="1" height="1" fill="#e8e8e8" opacity="0.7"/>
<rect x="255" y="106" width="1" height="1" fill="#e8e8e8" opacity="0.7"/>
<rect x="255.7" y="96.2" width="1" height="1" fill="#e8e8e8" opacity="0.7"/>
<rect x="257.9" y="98.7" width="1" height="1" fill="#e8e8e8" opacity="0.7"/>
<rect x="256.3" y="97.6" width="1" height="1" fill="#e8e8e8" opacity="0.7"/>
<rect x="257.2" y="105.5" width="1" height="1" fill="#e8e8e8" opacity="0.7"/>
<rect x="255.4" y="98.8" width="1" height="1" fill="#e8e8e8" opacity="0.7"/>
<rect x="256" y="90.3" width="1" height="1" fill="#e8e8e8" opacity="0.7"/>
<rect x="258.1" y="97.2" width="1" height="1" fill="#e8e8e8" opacity="0.7"/>
<rect x="257.2" y="104.8" width="1" height="1" fill="#e8e8e8" opacity="0.7"/>
<rect x="258.6" y="95.3" width="1" height="1" fill="#e8e8e8" opacity="0.7"/>
<rect x="257.5" y="97.2" width="1" height="1" fill="#e8e8e8" opacity="0.7"/>
<rect x="257" y="102.8" width="1" height="1" fill="#e8e8e8" opacity="0.7"/>
<rect x="256.8" y="98" width="1" height="1" fill="#e8e8e8" opacity="0.7"/>
<rect x="256.9" y="110.2" width="1" height="1" fill="#e8e8e8" opacity="0.7"/>
<rect x="257.8" y="108.3" width="1" height="1" fill="#e8e8e8" opacity="0.7"/>
<rect x="258.8" y="89.8" width="1" height="1" fill="#e8e8e8" opacity="0.7"/>
<rect x="257.2" y="110.3" width="1" height="1" fill="#e8e8e8" opacity="0.7"/>
<rect x="258.4" y="86.1" width="1" height="1" fill="#e8e8e8" opacity="0.7"/>
<rect x="255.5" y="95.3" width="1" height="1" fill="#e8e8e8" opacity="0.7"/>
<rect x="255.3" y="89.2" width="1" height="1" fill="#e8e8e8" opacity="0.7"/>
<rect x="255.3" y="102.1" width="1" height="1" fill="#e8e8e8" opacity="0.7"/>
<rect x="258.1" y="108.9" width="1" height="1" fill="#e8e8e8" opacity="0.7"/>
<rect x="255.6" y="103.5" width="1" height="1" fill="#e8e8e8" opacity="0.7"/>
<rect x="257.6" y="86.3" width="1" height="1" fill="#e8e8e8" opacity="0.7"/>
<rect x="258.5" y="111" width="1" height="1" fill="#e8e8e8" opacity="0.7"/>
<rect x="255.9" y="110.6" width="1" height="1" fill="#e8e8e8" opacity="0.7"/>
<rect x="256.6" y="96.6" width="1" height="1" fill="#e8e8e8" opacity="0.7"/>
<rect x="259" y="107" width="1" height="1" fill="#e8e8e8" opacity="0.7"/>
<rect x="255.6" y="94.9" width="1" height="1" fill="#e8e8e8" opacity="0.7"/>
<rect x="257.1" y="92.2" width="1" height="1" fill="#e8e8e8" opacity="0.7"/>
<rect x="255.8" y="91.6" width="1" height="1" fill="#e8e8e8" opacity="0.7"/>
<polyline points="284.5,1 305,33.5" fill="none" stroke="#4f8cc4" stroke-width="4.2" stroke-linecap="round" stroke-linejoin="round" opacity="0.72"/>
<polyline points="284.5,1 305,33.5" fill="none" stroke="#8cc0ec" stroke-width="1.0" stroke-linecap="round" stroke-linejoin="round" opacity="0.45" stroke-dasharray="0.8,1.6"/>
<polyline points="338,33 355,68 359,74" fill="none" stroke="#4f8cc4" stroke-width="4.2" stroke-linecap="round" stroke-linejoin="round" opacity="0.72"/>
<polyline points="338,33 355,68 359,74" fill="none" stroke="#8cc0ec" stroke-width="1.0" stroke-linecap="round" stroke-linejoin="round" opacity="0.45" stroke-dasharray="0.8,1.6"/>
<polyline points="284.7,52.6 316.7,52.5" fill="none" stroke="#4f8cc4" stroke-width="4.2" stroke-linecap="round" stroke-linejoin="round" opacity="0.72"/>
<polyline points="284.7,52.6 316.7,52.5" fill="none" stroke="#8cc0ec" stroke-width="1.0" stroke-linecap="round" stroke-linejoin="round" opacity="0.45" stroke-dasharray="0.8,1.6"/>
<polyline points="254,66.5 273,67 285,68.5" fill="none" stroke="#4f8cc4" stroke-width="4.2" stroke-linecap="round" stroke-linejoin="round" opacity="0.72"/>
<polyline points="254,66.5 273,67 285,68.5" fill="none" stroke="#8cc0ec" stroke-width="1.0" stroke-linecap="round" stroke-linejoin="round" opacity="0.45" stroke-dasharray="0.8,1.6"/>
<polyline points="332.7,75 355,75.2" fill="none" stroke="#4f8cc4" stroke-width="4.2" stroke-linecap="round" stroke-linejoin="round" opacity="0.72"/>
<polyline points="332.7,75 355,75.2" fill="none" stroke="#8cc0ec" stroke-width="1.0" stroke-linecap="round" stroke-linejoin="round" opacity="0.45" stroke-dasharray="0.8,1.6"/>
<polyline points="282,107 273,120" fill="none" stroke="#4f8cc4" stroke-width="4.2" stroke-linecap="round" stroke-linejoin="round" opacity="0.72"/>
<polyline points="282,107 273,120" fill="none" stroke="#8cc0ec" stroke-width="1.0" stroke-linecap="round" stroke-linejoin="round" opacity="0.45" stroke-dasharray="0.8,1.6"/>
<polyline points="305.3,110 315,122 318,130" fill="none" stroke="#4f8cc4" stroke-width="4.2" stroke-linecap="round" stroke-linejoin="round" opacity="0.72"/>
<polyline points="305.3,110 315,122 318,130" fill="none" stroke="#8cc0ec" stroke-width="1.0" stroke-linecap="round" stroke-linejoin="round" opacity="0.45" stroke-dasharray="0.8,1.6"/>
<polyline points="305.5,30 336.2,33.9" fill="none" stroke="#aedb48" stroke-width="3.4" stroke-linecap="round" stroke-linejoin="round" opacity="0.88"/>
<polyline points="305.5,30 336.2,33.9" fill="none" stroke="#dcf07a" stroke-width="1.19" stroke-linecap="round" stroke-linejoin="round" opacity="0.7"/>
<polyline points="316.7,53.1 334.2,73.6" fill="none" stroke="#aedb48" stroke-width="3.2" stroke-linecap="round" stroke-linejoin="round" opacity="0.88"/>
<polyline points="316.7,53.1 334.2,73.6" fill="none" stroke="#dcf07a" stroke-width="1.1199999999999999" stroke-linecap="round" stroke-linejoin="round" opacity="0.7"/>
<polyline points="289.8,52.4 294.9,59.7 286.8,69.9" fill="none" stroke="#aedb48" stroke-width="3.0" stroke-linecap="round" stroke-linejoin="round" opacity="0.88"/>
<polyline points="289.8,52.4 294.9,59.7 286.8,69.9" fill="none" stroke="#dcf07a" stroke-width="1.0499999999999998" stroke-linecap="round" stroke-linejoin="round" opacity="0.7"/>
<polyline points="282.5,109.4 305.3,110" fill="none" stroke="#aedb48" stroke-width="3.4" stroke-linecap="round" stroke-linejoin="round" opacity="0.88"/>
<polyline points="282.5,109.4 305.3,110" fill="none" stroke="#dcf07a" stroke-width="1.19" stroke-linecap="round" stroke-linejoin="round" opacity="0.7"/>
<polyline points="273,67.7 277.4,70.7" fill="none" stroke="#aedb48" stroke-width="2.4" stroke-linecap="round" stroke-linejoin="round" opacity="0.88"/>
<polyline points="273,67.7 277.4,70.7" fill="none" stroke="#dcf07a" stroke-width="0.84" stroke-linecap="round" stroke-linejoin="round" opacity="0.7"/>
<ellipse cx="292.5" cy="10.8" rx="3.6" ry="2.2" fill="#a8d848" opacity="0.9"/>
<polygon points="264.2,44.8 262.4,48 266,48" fill="#aedb48" opacity="0.95"/>
<polygon points="289.6,89.4 288,92.3 291.2,92.3" fill="#aedb48" opacity="0.95"/>
<polygon points="289.6,96.7 288.1,99.4 291.1,99.4" fill="#aedb48" opacity="0.95"/>
<polygon points="287.3,99.2 286.1,101.4 288.5,101.4" fill="#aedb48" opacity="0.95"/>
<polygon points="282.5,111.9 280.7,115.1 284.3,115.1" fill="#aedb48" opacity="0.95"/>
<polygon points="282.5,118.5 280.7,121.7 284.3,121.7" fill="#aedb48" opacity="0.95"/>
<polygon points="295.7,121.5 293.9,124.7 297.5,124.7" fill="#aedb48" opacity="0.95"/>
<polygon points="327.7,91.3 325.5,95.3 329.9,95.3" fill="#aedb48" opacity="0.95"/>
<polygon points="347.8,80.8 345.8,84.4 349.8,84.4" fill="#aedb48" opacity="0.95"/>
<polygon points="357.5,72.1 355.1,76.4 359.9,76.4" fill="#aedb48" opacity="0.95"/>
<polygon points="320,123.2 318.2,126.4 321.8,126.4" fill="#aedb48" opacity="0.95"/>
<polygon points="272.7,24.8 275.5,23.8 278.3,24.8 277.5,30 273.5,30" fill="#e8602a"/>
<polygon points="365.2,96 368,95 370.8,96 370,101.2 366,101.2" fill="#e8602a"/>
</g>
<text class="pl" x="263" y="18.3" font-size="13.2" fill="#fff">(c)</text>
<g clip-path="url(#clipd)">
<rect x="391.5" y="3" width="125.5" height="126" fill="url(#dbg)"/>
<g filter="url(#bl2)" stroke="#f6c040" stroke-width="8.5" stroke-linecap="round" stroke-linejoin="round" fill="none" opacity="1">
<polyline points="459,27 487,17"/>
<polyline points="462,29 484,46 483,66"/>
<polyline points="480,29 503,44"/>
<polyline points="440,30 453,46"/>
<polyline points="402,42 420,40 436,34"/>
<polyline points="483,60 484,100 482,130" stroke-width="10" opacity="0.3"/>
<polyline points="395,7 515,7" stroke-width="10" opacity="0.5"/>
<polyline points="398,30 410,28" stroke-width="8" opacity="0.6"/>
<polyline points="424,27 439,29" stroke-width="7" opacity="0.7"/>
</g>
<circle cx="405" cy="15" r="17" fill="url(#glow)"/>
<circle cx="393" cy="22" r="9" fill="url(#glow)"/>
<circle cx="418" cy="40" r="12" fill="url(#glow)" opacity="0.6"/>
<circle cx="422" cy="48.2" r="6.3" fill="url(#blob)"/>
<circle cx="435.8" cy="10.8" r="10.7" fill="url(#blob)"/>
<circle cx="446" cy="21" r="7.9" fill="url(#blob)"/>
<circle cx="394.7" cy="37.6" r="7.4" fill="url(#blob)"/>
<circle cx="430.3" cy="45.9" r="7.4" fill="url(#blob)"/>
<circle cx="399.5" cy="57.8" r="7.4" fill="url(#blob)"/>
<circle cx="501.6" cy="7.9" r="8.2" fill="url(#blob)"/>
<circle cx="488.6" cy="19.8" r="6.6" fill="url(#blob)"/>
<circle cx="490" cy="31.3" r="10.7" fill="url(#blob)"/>
<circle cx="456.3" cy="50.3" r="8.2" fill="url(#blob)"/>
<circle cx="472.4" cy="47.4" r="7.4" fill="url(#blob)"/>
<circle cx="500" cy="48.9" r="7.9" fill="url(#blob)"/>
<circle cx="482.6" cy="68" r="6.9" fill="url(#blob)"/>
<circle cx="412.5" cy="75" r="8.2" fill="url(#blob)"/>
<circle cx="441.7" cy="73.7" r="7.1" fill="url(#blob)"/>
<circle cx="430.3" cy="82.8" r="7.4" fill="url(#blob)"/>
<circle cx="393.6" cy="80.4" r="6.6" fill="url(#blob)"/>
<circle cx="450.5" cy="91" r="7.4" fill="url(#blob)"/>
<circle cx="394.7" cy="108.9" r="6.6" fill="url(#blob)"/>
<circle cx="419.7" cy="118.4" r="8.2" fill="url(#blob)"/>
<circle cx="443.4" cy="122" r="7.4" fill="url(#blob)"/>
<circle cx="492.9" cy="75.2" r="7.4" fill="url(#blob)"/>
<circle cx="509" cy="75.2" r="6.6" fill="url(#blob)"/>
<circle cx="470.8" cy="90" r="8.6" fill="url(#blob)"/>
<circle cx="483.8" cy="93.5" r="7.4" fill="url(#blob)"/>
<circle cx="457.7" cy="105.3" r="7.9" fill="url(#blob)"/>
<circle cx="482.7" cy="109" r="7.4" fill="url(#blob)"/>
<circle cx="512" cy="99.4" r="6.6" fill="url(#blob)"/>
<circle cx="494.5" cy="119.6" r="7.4" fill="url(#blob)"/>
<circle cx="510" cy="119.6" r="7.4" fill="url(#blob)"/>
<circle cx="463.7" cy="128" r="6.6" fill="url(#blob)"/>
</g>
<text class="pl" x="397.6" y="18.8" font-size="13.8" fill="#111">(d)</text>
<line x1="408" y1="49.5" x2="414" y2="42.6" stroke="#86c6ee" stroke-width="2.0"/>
<polygon points="419,37 417.2,45.4 410.9,39.9" fill="#86c6ee"/>
<line x1="434" y1="62.7" x2="441" y2="54.3" stroke="#86c6ee" stroke-width="2.0"/>
<polygon points="445.8,48.5 444.2,57 437.8,51.6" fill="#86c6ee"/>
<line x1="414.9" y1="104" x2="423.1" y2="94.4" stroke="#a8e290" stroke-width="2.0"/>
<polygon points="428,88.7 426.3,97.1 419.9,91.7" fill="#a8e290"/>
<line x1="435" y1="114.8" x2="443.2" y2="105.1" stroke="#a8e290" stroke-width="2.0"/>
<polygon points="448,99.4 446.4,107.8 440,102.4" fill="#a8e290"/>
<text class="pl" x="4.8" y="152.1" font-size="13.8">(e)</text>
<path d="M46,148 C47,147.4 50,145.6 52,144.5 C54,143.4 56.3,142.1 58,141.3 C59.7,140.5 61.3,139.8 62,139.5" fill="none" stroke="#5b9be0" stroke-width="1.45"/>
<path d="M46,156 C46.7,155.4 48.5,153.9 50,152.5 C51.5,151.1 53.5,149.1 55,147.5 C56.5,145.9 57.8,144.5 59,143.2 C60.2,141.9 61.9,140.1 62.5,139.5" fill="none" stroke="#5b9be0" stroke-width="1.45"/>
<path d="M112,140 C112.8,140.5 115.5,141.9 117,143 C118.5,144.1 120.3,145.9 121,146.5" fill="none" stroke="#5b9be0" stroke-width="1.45"/>
<path d="M150,139.5 C150.5,140 152,141.4 153,142.5 C154,143.6 154.8,144.6 156,146 C157.2,147.4 158.2,149.2 160,151 C161.8,152.8 165.7,155.6 166.8,156.5" fill="none" stroke="#5b9be0" stroke-width="1.45"/>
<path d="M151.5,139.5 C152.1,140.1 153.6,141.9 155,143 C156.4,144.1 158,145.2 160,146.2 C162,147.2 165.7,148.4 166.8,148.8" fill="none" stroke="#5b9be0" stroke-width="1.45"/>
<path d="M46,190 C48.2,188.2 54.5,182.3 59.3,179 C64.1,175.7 69.5,172.5 74.6,170.2 C79.7,167.9 86.3,166.3 90,165 C93.7,163.7 94,162.3 96.5,162.6 C99,162.8 101.9,164.3 105,166.5 C108.1,168.7 112,175 115,175.5 C118,176 120.1,170.2 122.8,169.5 C125.5,168.8 127.6,169.7 131.2,171 C134.8,172.3 140.3,174.9 144.3,177.5 C148.3,180.1 152.4,184 155.3,186.3 C158.2,188.6 159.9,190.7 161.9,191.5 C163.9,192.3 166.4,191.1 167.3,191" fill="none" stroke="#5b9be0" stroke-width="1.45"/>
<path d="M101.4,205 C102.2,203.5 104.7,198.7 106,196 C107.3,193.3 107.8,191.6 109.2,189 C110.7,186.4 113.2,182.1 114.7,180.5 C116.2,178.9 116.3,179.6 118,179.7 C119.7,179.8 121.7,179.5 124.6,180.8 C127.5,182.1 132.2,184.7 135.5,187.4 C138.8,190.2 141.9,194.5 144.3,197.3 C146.7,200.1 148.1,202.2 150,204 C151.9,205.8 154,208.7 156,208 C158,207.3 160.1,202.2 162,200 C163.9,197.8 166.4,195.8 167.3,195" fill="none" stroke="#5b9be0" stroke-width="1.45"/>
<path d="M46,191 C46.8,191.3 48.3,190.8 51,193 C53.7,195.2 58.8,201.5 62,204 C65.2,206.5 67.3,207.4 70,208 C72.7,208.6 75.7,209 78,207.5 C80.3,206 82.2,201.3 84,199 C85.8,196.7 86.9,195.2 89,193.7 C91.1,192.2 94,189.8 96.5,190 C99,190.2 101.3,192.9 103.7,194.6 C106.1,196.3 108.3,198.3 111,200 C113.7,201.7 116.7,203.4 120,204.7 C123.3,206 127.7,206.9 131,208 C134.3,209.1 136.8,211.2 140,211 C143.2,210.8 147,208.8 150,207 C153,205.2 155.7,202.1 158,200 C160.3,197.9 162.4,195.7 164,194.5 C165.6,193.3 166.8,193.2 167.3,193" fill="none" stroke="#5b9be0" stroke-width="1.45"/>
<path d="M47,194 C49.2,196.2 56.8,203.7 60,207 C63.2,210.3 63.8,211.9 66,214 C68.2,216.1 70.6,218.7 73,219.3 C75.4,219.9 77.7,217.7 80.5,217.4 C83.3,217.1 87.3,216.3 90,217.5 C92.7,218.7 94.5,224.5 96.5,224.5 C98.5,224.5 99.9,219 102,217.4 C104.1,215.8 106.2,215.3 109.2,214.7 C112.2,214.1 116.3,214 120,213.8 C123.7,213.6 127.9,213.8 131.2,213.7 C134.5,213.6 136.7,214.4 140,213.5 C143.3,212.6 147,210.9 151,208 C155,205.1 161.8,198 164,196" fill="none" stroke="#5b9be0" stroke-width="1.45"/>
<path d="M50,196 C52,198.2 58.7,206.8 62,209 C65.3,211.2 67,209.5 70,209.5 C73,209.5 77.3,209.4 80,209 C82.7,208.6 85,207.3 86,207" fill="none" stroke="#5b9be0" stroke-width="1.45"/>
<path d="M46,257.5 C47.2,257.6 50,257 53,258 C56,259 62,262.6 63.8,263.5" fill="none" stroke="#5b9be0" stroke-width="1.45"/>
<path d="M80.8,264 C82,263.2 85.4,260.8 88,259 C90.6,257.2 93.3,253.1 96.6,253 C99.9,252.9 103.9,256.7 108,258.5 C112.1,260.3 118.8,263.1 121,264" fill="none" stroke="#5b9be0" stroke-width="1.45"/>
<path d="M150.5,264 C151.4,263.3 154.4,261 156,260 C157.6,259 158.1,258.3 160,258 C161.9,257.7 166.1,258 167.3,258" fill="none" stroke="#5b9be0" stroke-width="1.45"/>
<line x1="45.8" y1="222.8" x2="167.3" y2="222.8" stroke="#222" stroke-width="1" stroke-dasharray="3,2.6"/>
<line x1="96.8" y1="139.3" x2="96.8" y2="264.2" stroke="#222" stroke-width="1" stroke-dasharray="3,2.6"/>
<line x1="122.8" y1="139.3" x2="122.8" y2="264.2" stroke="#222" stroke-width="1" stroke-dasharray="3,2.6"/>
<rect x="45.8" y="139.3" width="121.50000000000001" height="124.89999999999998" fill="none" stroke="#222" stroke-width="1"/>
<line x1="88.9" y1="202.5" x2="88.9" y2="208" stroke="#333" stroke-width="1"/>
<path d="M85.8,207.5 L92,207.5 L88.9,215.8 Z" fill="#f2e12a" stroke="#6e5f0e" stroke-width="0.6"/>
<line x1="106.1" y1="202.5" x2="106.1" y2="208" stroke="#333" stroke-width="1"/>
<path d="M103,207.5 L109.2,207.5 L106.1,215.8 Z" fill="#f2e12a" stroke="#6e5f0e" stroke-width="0.6"/>
<text class="pl" x="42.8" y="142.5" font-size="8.4" text-anchor="end">4</text>
<text class="pl" x="42.8" y="183.8" font-size="8.4" text-anchor="end">2</text>
<text class="pl" x="42.8" y="225.3" font-size="8.4" text-anchor="end">0</text>
<text class="pl" x="42.8" y="266.6" font-size="8.4" text-anchor="end">-2</text>
<text x="46.6" y="272.8" font-size="8" text-anchor="middle" font-family="'Liberation Serif','Times New Roman',serif">Γ</text>
<text x="96.8" y="272.8" font-size="8" text-anchor="middle" font-family="'Liberation Sans',Arial,sans-serif">K</text>
<text x="122.9" y="272.8" font-size="8" text-anchor="middle" font-family="'Liberation Sans',Arial,sans-serif">M</text>
<text x="167" y="272.8" font-size="8" text-anchor="middle" font-family="'Liberation Serif','Times New Roman',serif">Γ</text>
<text class="sb" transform="translate(32,200.3) rotate(-90)" font-size="14" text-anchor="middle">Energy (eV)</text>
<text class="pl" x="179.6" y="152.1" font-size="13.8">(f)</text>
<polyline points="221.4,179 221.8,195 222.1,207 222.7,216 223.3,224 224.2,231 225,237 226.5,242 228,245 230,246.4 231,246.8 232.5,246.3 234,246.6 235.5,246.6 237,246.3 238.5,246.5 240,246.7 241.5,246.6 243,246.3 244.5,246.9 246,246.8 247.5,246.9 249,246.3 250.5,246.4 252,246.3 253.5,246.8 255,246.4 256.5,246.3 258,246.5 259.5,246.9 261,246.8 262.5,246.4 264,246.4 265.5,246.9 267,246.6 268.5,246.7 270,246.3 271.5,246.3 273,246.7 274.5,246.5 276,246.3 277.5,246.9 279,246.7 280.5,246.8 282,246.3 283.5,246.8 285,246.3 286.5,246.9 288,246.6 289.5,246.5 291,246.6 292.5,246.9 294,246.4 295.5,246.3 297,246.6 298.5,246.4 300,246.3 301.5,246.4 303,246.3 304.5,246.4 306,246.5 307.5,246.5 309,246.8 310.5,246.5 312,246.6 313.5,246.4 315,246.5 316.5,246.3 318,246.4 319.5,246.3 320,246.5 322,245.8 323.5,243.5 325,240.8 327.8,229.8 330.5,216 333.3,202.4 336,191.4 338.8,186 340.3,179" fill="none" stroke="#5a9ee0" stroke-width="1.25" stroke-linejoin="round"/>
<polyline points="217.2,150.5 217.6,165 218,185 218.5,205 219.2,218 220.2,228 221.5,235 223,239 224.5,242 225.5,246 226.1,244.6 226.7,241.9 227.3,244.1 227.9,247.5 228.5,241.3 229.1,246.6 229.7,243.7 230.3,244.2 230.9,246.8 231.5,243.4 232.1,244.3 232.7,245.7 233.3,247.6 233.9,243.1 234.5,246.7 235.1,245.8 235.7,245.3 236.3,243.5 236.9,243.1 237.5,240.9 238.1,241.5 238.7,241 239.3,246.1 239.9,242.4 240.5,241.7 241.1,241.1 241.7,246.8 242.3,247 242.9,245.5 243.5,242.6 244.1,242.3 244.7,242.7 245.3,244.3 245.9,242.3 246.5,244.2 247.1,243 247.7,247.6 248.3,247.6 248.9,244.9 249.5,242.9 250.1,247.6 250.7,243.3 251.3,243.6 251.9,241.2 252.5,243.8 253.1,244.4 253.7,244.6 254.3,242.6 254.9,244.6 255.5,241.2 256.1,243 256.7,241.8 257.3,243.9 257.9,241.5 258.5,241.4 259.1,243.3 259.7,242.8 260.3,245.2 260.9,244.8 261.5,246.3 262.1,245.7 262.7,246.1 263.3,247.2 263.9,243.8 264.5,243.4 265.1,247.6 265.7,242.2 266.3,246.1 266.9,245.6 267.5,241.5 268.1,246.9 268.7,247.3 269.3,245.5 269.9,246.2 270.5,246.7 271.1,242.1 271.7,244.8 272.3,244.6 272.9,246.9 273.5,246.7 274.1,246.8 274.7,245.2 275.3,247.3 275.9,245.8 276.5,245.9 277.1,242.8 277.7,241.4 278.3,242.1 278.9,243.7 279.5,241.9 280.1,246.9 280.7,245 281.3,245.5 281.9,245.5 282.5,245.8 283.1,244.5 283.7,241.2 284.3,246.6 284.9,246.3 285.5,244.6 286.1,244.8 286.7,245.7 287.3,241.6 287.9,246.2 288.5,242.9 289.1,241.7 289.7,243 290.3,246.2 290.9,242.6 291.5,246.2 292.1,247.6 292.7,244.6 293.3,243.8 293.9,244.5 294.5,245.8 295.1,246.4 295.7,245.4 296.3,245.6 296.9,241.7 297.5,242.2 298.1,242.9 298.7,246.3 299.3,243.3 299.9,245.1 300.5,241.3 301.1,241.6 301.7,243 302.3,245.8 302.9,245.9 303.5,245.8 304.1,243.2 304.7,244.7 305.3,244.4 305.9,244.4 306.5,242 307.1,247.3 307.7,242.6 308.3,247.6 308.9,247.6 309,245 311,242 313,236 314.5,230 315.5,227.8 317,231 318.2,233.9 319.5,224 321,208 322.3,191.4 323.8,186.5 325.6,182 327.1,173.7 328.4,186.5 330.2,179.2 332,166.4 333.3,159 334.4,157.3 335.1,172 335.9,192 337.5,195.6 339.3,193 340.3,194.7" fill="none" stroke="#d01418" stroke-width="1.6" stroke-linejoin="round"/>
<rect x="216.8" y="149.5" width="123.5" height="99.19999999999999" fill="none" stroke="#222" stroke-width="1"/>
<line x1="219.6" y1="248.7" x2="219.6" y2="246.7" stroke="#222" stroke-width="1"/>
<line x1="247.6" y1="248.7" x2="247.6" y2="246.7" stroke="#222" stroke-width="1"/>
<line x1="275.6" y1="248.7" x2="275.6" y2="246.7" stroke="#222" stroke-width="1"/>
<line x1="303.6" y1="248.7" x2="303.6" y2="246.7" stroke="#222" stroke-width="1"/>
<line x1="331.6" y1="248.7" x2="331.6" y2="246.7" stroke="#222" stroke-width="1"/>
<line x1="216.8" y1="160" x2="218.4" y2="160" stroke="#222" stroke-width="0.8"/>
<line x1="216.8" y1="180" x2="218.4" y2="180" stroke="#222" stroke-width="0.8"/>
<line x1="216.8" y1="200" x2="218.4" y2="200" stroke="#222" stroke-width="0.8"/>
<line x1="216.8" y1="220" x2="218.4" y2="220" stroke="#222" stroke-width="0.8"/>
<line x1="216.8" y1="240" x2="218.4" y2="240" stroke="#222" stroke-width="0.8"/>
<text class="sb" x="219.8" y="258.5" font-size="7.6" text-anchor="middle">-1.8</text>
<text class="sb" x="248.8" y="258.5" font-size="7.6" text-anchor="middle">-1.2</text>
<text class="sb" x="276.6" y="258.5" font-size="7.6" text-anchor="middle">-0.6</text>
<text class="sb" x="303.6" y="258.5" font-size="7.6" text-anchor="middle">0.0</text>
<text class="sb" x="331.2" y="258.5" font-size="7.6" text-anchor="middle">0.6</text>
<text class="sb" x="278.1" y="270.4" font-size="10.9" text-anchor="middle">Energy (eV)</text>
<text class="sb" transform="translate(211.9,200.6) rotate(-90)" font-size="12.6" text-anchor="middle">dI/d<tspan font-style="italic">V</tspan> (arb.units)</text>
<line x1="223.8" y1="162.7" x2="240.4" y2="162.7" stroke="#5a9ee0" stroke-width="1.4"/>
<line x1="223.8" y1="173.6" x2="240.4" y2="173.6" stroke="#d01418" stroke-width="1.4"/>
<text class="sb" x="243.4" y="165.5" font-size="7.45">undoped MoSe<tspan font-size="5.2" dy="1.8">2</tspan></text>
<text class="sb" x="243.4" y="175.6" font-size="7.45">Re/Mo = 1/10</text>
<line x1="314.4" y1="207.5" x2="314.4" y2="216" stroke="#111" stroke-width="1.2"/>
<polygon points="314.4,221.5 312,216 316.8,216" fill="#111"/>
<text class="pl" x="354.6" y="152.1" font-size="13.8">(g)</text>
<path d="M393.5,204.3 C394.2,204.4 396.7,204.6 398,204.8 C399.3,205 400.4,205.5 401.4,205.5 C402.4,205.5 403.3,205.2 404,205 C404.7,204.8 404.8,204.6 405.5,204.3 C406.2,204 407.2,203.7 408,203 C408.8,202.3 409.8,202.2 410.5,200 C411.2,197.8 411.7,193.8 412.4,190 C413.1,186.2 413.8,180.2 414.5,177 C415.2,173.8 415.8,172 416.5,170.5 C417.2,169 417.8,168.6 418.5,168 C419.2,167.4 420.2,167.1 421,167.2 C421.8,167.3 422.7,167.4 423.5,168.5 C424.3,169.6 425.2,171.2 426,173.5 C426.8,175.8 427.6,178 428.5,182 C429.4,186 430.5,193.2 431.5,197.5 C432.5,201.8 433.4,204.8 434.5,207.5 C435.6,210.2 437.2,211.6 438.4,213.5 C439.6,215.4 440.1,217.2 441.7,218.9 C443.3,220.7 445.8,222.4 448,224 C450.2,225.6 452.7,227 455.2,228.3 C457.7,229.6 460.3,230.9 463,232 C465.7,233.1 468.6,234.2 471.4,235.1 C474.2,236 477.3,236.8 480,237.5 C482.7,238.2 485.1,238.6 487.6,239.1 C490.1,239.6 492.3,240.1 495,240.5 C497.7,240.9 500.2,241.4 503.8,241.8 C507.4,242.2 514.4,242.5 516.5,242.7" fill="none" stroke="#d01820" stroke-width="1.4"/>
<path d="M393.5,219 C394.3,219.2 396.9,219.6 398.5,220.2 C400.1,220.8 401.6,221.9 403,222.5 C404.4,223.1 405.4,223.7 406.6,223.8 C407.8,223.9 409,223.8 410,223.2 C411,222.6 411.7,222 412.5,220.5 C413.3,219 414.2,216.8 415,214 C415.8,211.2 416.8,207.5 417.5,204 C418.2,200.5 418.8,196.8 419.5,193 C420.2,189.2 420.8,184.6 421.5,181 C422.2,177.4 422.8,173.9 423.5,171.5 C424.2,169.1 425.2,166.4 426,166.3 C426.8,166.2 427.8,168.6 428.5,171 C429.2,173.4 429.8,177 430.5,181 C431.2,185 431.8,190.8 432.5,195 C433.2,199.2 433.8,202.8 434.5,206 C435.2,209.2 436.1,211.8 437,214.5 C437.9,217.2 438.8,220.1 440,222.5 C441.2,224.9 442.5,227.1 444,229 C445.5,230.9 447.2,232.6 449,234 C450.8,235.4 452.8,236.5 455,237.5 C457.2,238.5 459.5,239.2 462,240 C464.5,240.8 467,241.4 470,242 C473,242.6 476.7,243.1 480,243.4 C483.3,243.7 486.7,243.9 490,244 C493.3,244.1 495.6,244.1 500,244.2 C504.4,244.3 513.8,244.4 516.5,244.5" fill="none" stroke="#111" stroke-width="1.5"/>
<rect x="393.3" y="149.6" width="123.30000000000001" height="98.9" fill="none" stroke="#222" stroke-width="1"/>
<line x1="410.4" y1="248.5" x2="410.4" y2="246.3" stroke="#222" stroke-width="1"/>
<line x1="427.9" y1="248.5" x2="427.9" y2="247.1" stroke="#222" stroke-width="1"/>
<line x1="446.2" y1="248.5" x2="446.2" y2="246.3" stroke="#222" stroke-width="1"/>
<line x1="464.6" y1="248.5" x2="464.6" y2="247.1" stroke="#222" stroke-width="1"/>
<line x1="482" y1="248.5" x2="482" y2="246.3" stroke="#222" stroke-width="1"/>
<line x1="499.2" y1="248.5" x2="499.2" y2="247.1" stroke="#222" stroke-width="1"/>
<line x1="393.3" y1="160.5" x2="394.90000000000003" y2="160.5" stroke="#222" stroke-width="0.8"/>
<line x1="393.3" y1="173" x2="394.90000000000003" y2="173" stroke="#222" stroke-width="0.8"/>
<line x1="393.3" y1="186" x2="394.90000000000003" y2="186" stroke="#222" stroke-width="0.8"/>
<line x1="393.3" y1="199" x2="394.90000000000003" y2="199" stroke="#222" stroke-width="0.8"/>
<line x1="393.3" y1="212" x2="394.90000000000003" y2="212" stroke="#222" stroke-width="0.8"/>
<line x1="393.3" y1="225" x2="394.90000000000003" y2="225" stroke="#222" stroke-width="0.8"/>
<line x1="393.3" y1="238" x2="394.90000000000003" y2="238" stroke="#222" stroke-width="0.8"/>
<text class="sb" x="410.7" y="258.4" font-size="7.8" text-anchor="middle">2</text>
<text class="sb" x="445.8" y="258.4" font-size="7.8" text-anchor="middle">1</text>
<text class="sb" x="480.6" y="258.4" font-size="7.8" text-anchor="middle">0</text>
<text class="sb" x="489.2" y="258.4" font-size="7.8">=</text>
<text class="sb" x="497.6" y="258.4" font-size="8.8" font-style="italic">E<tspan font-size="7" dy="0.7">F</tspan></text>
<text class="sb" x="512.6" y="258.4" font-size="7.8">-1</text>
<text class="sb" x="455" y="267.4" font-size="8.45" text-anchor="middle">Binding Energy (eV)</text>
<text class="sb" transform="translate(385.6,199.2) rotate(-90)" font-size="10" text-anchor="middle">Intensity (arb.units)</text>
<line x1="437" y1="160.5" x2="452" y2="160.5" stroke="#111" stroke-width="1.5"/>
<line x1="437" y1="171.5" x2="452" y2="171.5" stroke="#d01820" stroke-width="1.5"/>
<text class="sb" x="454.8" y="163" font-size="7.45">undoped MoSe<tspan font-size="5.2" dy="1.8">2</tspan></text>
<text class="sb" x="454.8" y="173.7" font-size="7.45">Re/Mo = 1/10</text>
<line x1="420.6" y1="155" x2="420.6" y2="161.5" stroke="#d01820" stroke-width="1.1"/>
<polygon points="420.6,166 418.4,161.5 422.8,161.5" fill="#d01820"/>
<line x1="426" y1="153.7" x2="426" y2="159" stroke="#111" stroke-width="1.1"/>
<polygon points="426,163.5 423.8,159 428.2,159" fill="#111"/>
</svg></body></html>
